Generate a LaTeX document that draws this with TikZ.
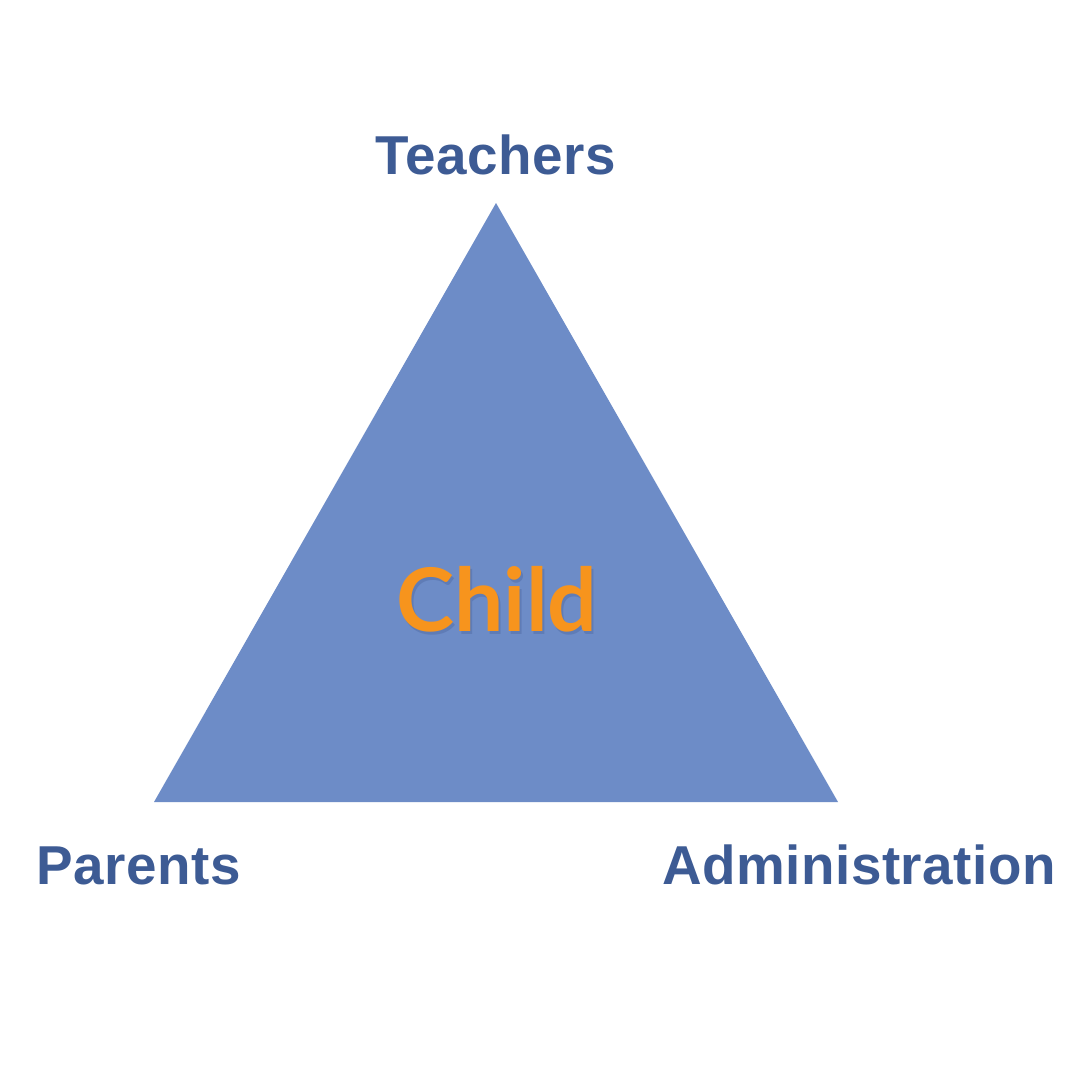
\documentclass[tikz,border=0pt]{standalone}
\usepackage{fontspec}
\setmainfont[LetterSpace=1]{Liberation Sans}
\newfontfamily\childfont{Lato}
\usepackage{tikz}
\usetikzlibrary{positioning}
\definecolor{triblue}{HTML}{6D8CC7}
\definecolor{labblue}{HTML}{3D5B94}
\definecolor{childorange}{HTML}{F7941D}
\definecolor{shadowblue}{HTML}{5F7CB6}
\tikzstyle{lab}=[text=labblue, inner sep=0pt, anchor=base, font=\fontsize{55}{60}\selectfont\bfseries]
\tikzstyle{kid}=[inner sep=0pt, anchor=base, font=\fontsize{88}{96}\selectfont\childfont\bfseries]
\def\cTd{Teachers}
\def\cPd{Parents}
\def\cAd{Administration}
\def\cCd{Child}
\def\shade#1{\makebox[0pt][l]{\hspace{2bp}\raisebox{-3bp}{\color{shadowblue}#1}}\color{childorange}#1}

\begin{document}
\begin{tikzpicture}[x=1bp, y=-1bp]
      \useasboundingbox [fill=white] (0, 0) rectangle (1080, 1080);
      \coordinate (T) at (496, 203);
      \coordinate (P) at (154, 802);
      \coordinate (A) at (838, 802);
      \fill [triblue] (T) -- (P) -- (A) -- cycle;

      \node [lab] (teach) at (496, 174) {\cTd};
      \node [lab] (par) at (139, 884) {\cPd};
      \node [lab] (adm) at (859, 884) {\cAd};

      \node [kid] (child) at (497, 631) {\shade{\cCd}};
    \end{tikzpicture}
\end{document}
